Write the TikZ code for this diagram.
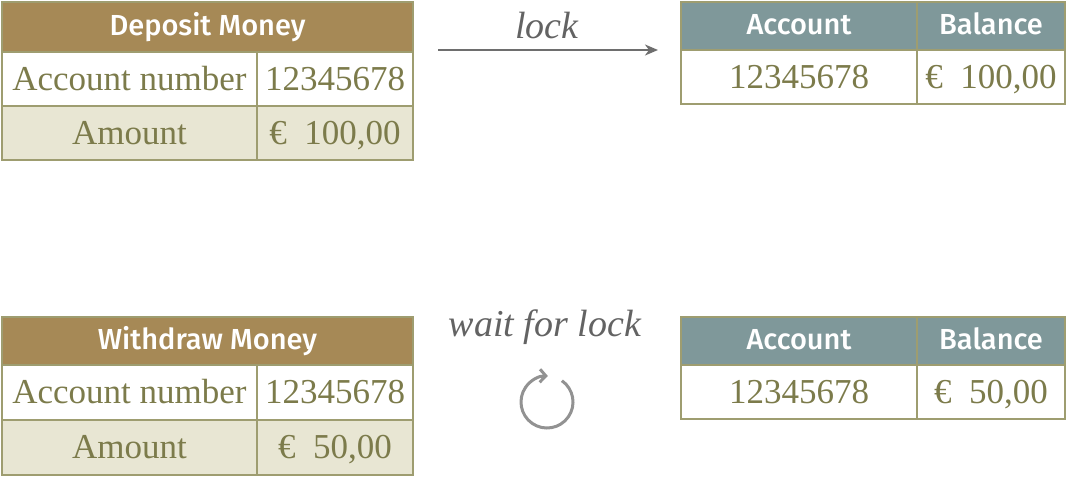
\documentclass[tikz,border=0pt]{standalone}
\usepackage{fontspec}
\setmainfont{Liberation Serif}
\newfontfamily\cabfonte{Fira Sans Medium}
\usetikzlibrary{arrows.meta}
\definecolor{ouro}{HTML}{A68956}
\definecolor{petroleo}{HTML}{7F989A}
\definecolor{oliva}{HTML}{7C7B4B}
\definecolor{bege}{HTML}{E8E6D3}
\definecolor{linha}{HTML}{9E9D70}
\definecolor{cinza}{HTML}{6E6E6E}
\begin{document}
\begin{tikzpicture}[x=1pt,y=-1pt, %Desenho em pixels, y para baixo
	cel/.style={draw=linha, line width=1.3pt, inner sep=0pt, text=oliva, text height=28pt, text depth=6pt, font=\fontsize{35}{40}\selectfont},
	cab/.style={cel, fill=ouro, text=white, text height=22pt, text depth=6pt, font=\cabfonte\fontsize{29}{32}\selectfont},
	cabconta/.style={cab, fill=petroleo},
	rotulo/.style={text=cinza!90!black, font=\itshape\fontsize{38}{42}\selectfont}]
	\useasboundingbox (0,0) rectangle (1067,477);
	%Deposito
	\node[cab, minimum width=411, minimum height=50] (dep) at (207.5,27) {Deposit Money};
	\node[cel, minimum width=255, minimum height=54] (depnum) at (129.5,79) {Account number};
	\node[cel, minimum width=156, minimum height=54] (depnumval) at (335,79) {12345678};
	\node[cel, fill=bege, minimum width=255, minimum height=54] (depval) at (129.5,133) {Amount};
	\node[cel, fill=bege, minimum width=156, minimum height=54] (depvalval) at (335,133) {€\ \ 100,00};
	%Conta depois do deposito
	\node[cabconta, minimum width=236, minimum height=48] (conta) at (799,26) {Account};
	\node[cabconta, minimum width=148, minimum height=48] (saldo) at (991,26) {Balance};
	\node[cel, minimum width=236, minimum height=54] (contanum) at (799,77) {12345678};
	\node[cel, minimum width=148, minimum height=54] (saldoval) at (991,77) {€\ \ 100,00};
	\coordinate (lockA) at (438,50);
	\coordinate (lockB) at (658,50);
	\draw[-{Stealth[length=13pt,width=11pt,inset=4pt]}, line width=2pt, cinza] (lockA) -- (lockB);
	\node[rotulo] (lock) at (547,26) {lock};
	%Saque
	\node[cab, minimum width=411, minimum height=48] (saq) at (207.5,341) {Withdraw Money};
	\node[cel, minimum width=255, minimum height=55] (saqnum) at (129.5,392.5) {Account number};
	\node[cel, minimum width=156, minimum height=55] (saqnumval) at (335,392.5) {12345678};
	\node[cel, fill=bege, minimum width=255, minimum height=55] (saqval) at (129.5,447.5) {Amount};
	\node[cel, fill=bege, minimum width=156, minimum height=55] (saqvalval) at (335,447.5) {€\ \ 50,00};
	%Conta esperando
	\node[cabconta, minimum width=236, minimum height=48] (conta2) at (799,341) {Account};
	\node[cabconta, minimum width=148, minimum height=48] (saldo2) at (991,341) {Balance};
	\node[cel, minimum width=236, minimum height=54] (contanum2) at (799,392) {12345678};
	\node[cel, minimum width=148, minimum height=54] (saldoval2) at (991,392) {€\ \ 50,00};
	\node[rotulo] (espera) at (545,327) {wait for lock};
	\coordinate (giro) at (547,402);
	\draw[-{Straight Barb[length=6pt,width=13pt]}, line width=3pt, cinza!75] ([shift={(-55:26)}]giro) arc[start angle=-55, end angle=272, radius=26];
\end{tikzpicture}
\end{document}
